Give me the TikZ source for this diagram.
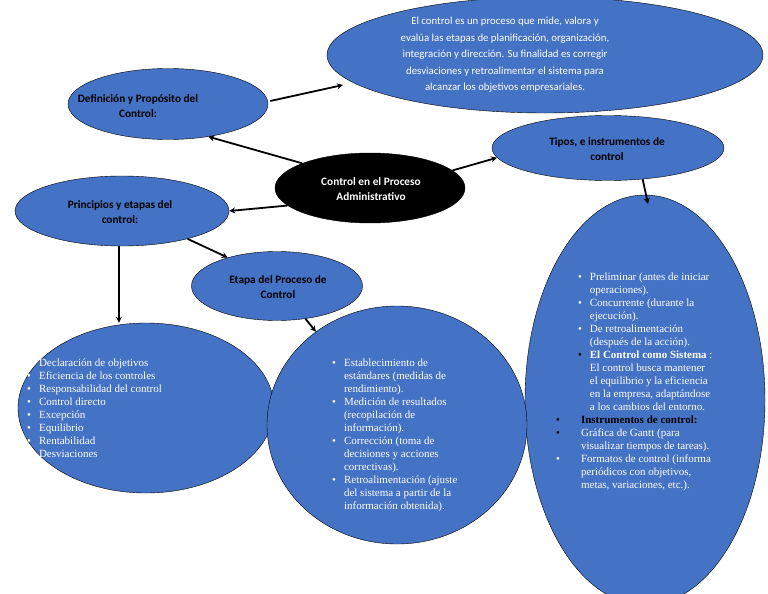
\documentclass[tikz,border=0pt]{standalone}
\usepackage{fontspec}
\setmainfont{Liberation Serif}
\newfontfamily\lbl{Carlito}
\usetikzlibrary{arrows.meta,shapes.geometric}
\tikzset{
  arr/.style={-{Stealth[length=6pt,width=6pt]}, line width=1.8pt},
  lab/.style={font=\lbl\fontsize{11.3}{15.5}\selectfont\bfseries, align=center},
  lst/.style={font=\fontsize{11}{13}\selectfont, text=white, anchor=north west, inner sep=0pt, align=left}
}
\definecolor{bl}{RGB}{68,114,196}
\newcommand{\bul}{\textcolor{white}{\textbullet}}
\newcommand{\bbul}{\textcolor{black}{\textbullet}}
\begin{document}
\begin{tikzpicture}[x=1pt,y=-1pt]
    \useasboundingbox (0,0) rectangle (768,594);
    \begin{scope}
    \clip (0,0) rectangle (768,594);
    \path[draw=black, fill=bl] (545,55) ellipse [x radius=218, y radius=58];
    \path[draw=black, fill=bl] (645,400) ellipse [x radius=120, y radius=205];
    \end{scope}
    \node[ellipse, draw, fill=bl, minimum width=200, minimum height=71] (DEF) at (168,104) {};
    \node[ellipse, draw, fill=black, minimum width=190, minimum height=70] (CEN) at (370,188) {};
    \node[ellipse, draw, fill=bl, minimum width=232, minimum height=65] (TIP) at (608,148) {};
    \node[ellipse, draw, fill=bl, minimum width=214, minimum height=70] (PRI) at (122,211) {};
    \node[ellipse, draw, fill=bl, minimum width=171, minimum height=69] (ETA) at (277,286) {};
    \node[ellipse, draw, fill=bl, minimum width=256, minimum height=170] (LEFT) at (146,408) {};
    \node[ellipse, draw, fill=bl, minimum width=260, minimum height=238] (MID) at (397,425) {};
    \coordinate (TOP) at (343,85);
    \coordinate (RIG) at (648,204);

    % labels
    \node[lab] at (138,106) {Definición y Propósito del\\Control:};
    \node[lab, text=white] at (371,189) {Control en el Proceso\\Administrativo};
    \node[lab] at (607,149) {Tipos, e instrumentos de\\control};
    \node[lab] at (120,212) {Principios y etapas del\\control:};
    \node[lab] at (278,287) {Etapa del Proceso de\\Control};
    \node[font=\lbl\fontsize{10.8}{16.5}\selectfont, text=white, align=center] at (505,55)
      {El control es un proceso que mide, valora y\\evalúa las etapas de planificación, organización,\\integración y dirección. Su finalidad es corregir\\desviaciones y retroalimentar el sistema para\\alcanzar los objetivos empresariales.};

    % lists
    \node[lst] at (27,357) {\begin{tabular}{@{}l@{\hspace{8pt}}l@{}}
      \bul & Declaración de objetivos\\ \bul & Eficiencia de los controles\\
      \bul & Responsabilidad del control\\ \bul & Control directo\\
      \bul & Excepción\\ \bul & Equilibrio\\ \bul & Rentabilidad\\ \bul & Desviaciones
    \end{tabular}};
    \node[lst] at (332,357) {\begin{tabular}{@{}l@{\hspace{8pt}}l@{}}
      \bul & Establecimiento de\\ & estándares (medidas de\\ & rendimiento).\\
      \bul & Medición de resultados\\ & (recopilación de\\ & información).\\
      \bul & Corrección (toma de\\ & decisiones y acciones\\ & correctivas).\\
      \bul & Retroalimentación (ajuste\\ & del sistema a partir de la\\ & información obtenida).
    \end{tabular}};
    \node[lst] at (556,271) {\begin{tabular}{@{}l@{\hspace{18pt}}l@{\hspace{8pt}}l@{}}
      & \bul & Preliminar (antes de iniciar\\ & & operaciones).\\
      & \bul & Concurrente (durante la\\ & & ejecución).\\
      & \bul & De retroalimentación\\ & & (después de la acción).\\
      & \bbul & \textbf{El Control como Sistema} :\\ & & El control busca mantener\\
      & & el equilibrio y la eficiencia\\ & & en la empresa, adaptándose\\ & & a los cambios del entorno.\\
      \bbul & \multicolumn{2}{@{}l@{}}{\hspace{3pt}\textcolor{black}{\textbf{Instrumentos de control:}}}\\
      \bbul & \multicolumn{2}{@{}l@{}}{\hspace{3pt}Gráfica de Gantt (para}\\
      & \multicolumn{2}{@{}l@{}}{\hspace{3pt}visualizar tiempos de tareas).}\\
      \bul & \multicolumn{2}{@{}l@{}}{\hspace{3pt}Formatos de control (informa}\\
      & \multicolumn{2}{@{}l@{}}{\hspace{3pt}periódicos con objetivos,}\\
      & \multicolumn{2}{@{}l@{}}{\hspace{3pt}metas, variaciones, etc.).}
    \end{tabular}};

    % connectors
    \draw[arr] (DEF.east) ++(2,-3) -- (TOP);
    \draw[arr] (CEN.160) -- (DEF.-39);
    \draw[arr] (CEN.-168) -- (PRI.east);
    \draw[arr] (CEN.12) -- (TIP.-175);
    \draw[arr] (TIP.-42) -- (RIG);
    \draw[arr] (PRI.-95) -- (LEFT.north -| PRI.-95);
    \draw[arr] (PRI.-23) -- (ETA.150);
    \draw[arr] (ETA.-49) -- (MID.131);
\end{tikzpicture}
\end{document}
